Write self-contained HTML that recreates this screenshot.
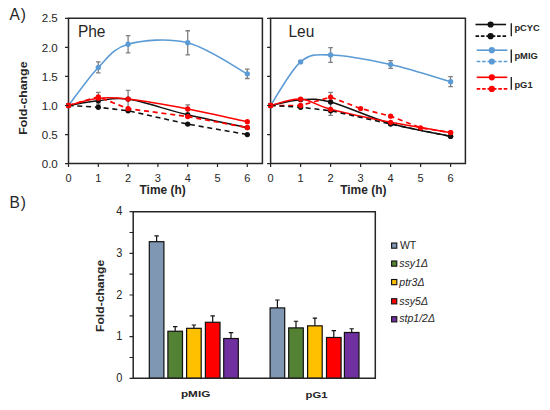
<!DOCTYPE html>
<html><head><meta charset="utf-8"><style>
html,body{margin:0;padding:0;background:#fff;width:550px;height:410px;overflow:hidden;}
svg{display:block;font-family:"Liberation Sans", sans-serif;}
</style></head><body>
<svg width="550" height="410" viewBox="0 0 550 410">
<rect width="550" height="410" fill="#fff"/>
<text transform="translate(9.6,19.6) scale(1,1.01)" font-size="15.5" fill="#262626" letter-spacing="0.8">A)</text>
<text transform="translate(9.4,207.5) scale(1,1.01)" font-size="15.5" fill="#262626" letter-spacing="1.1">B)</text>
<path d="M68.5,18.35 H262.4 V163.6 H68.5 Z" stroke="#262626" stroke-width="1.5" fill="none"/>
<path d="M98.3,61.92 V72.96 M96,61.92 h4.6 M96,72.96 h4.6" stroke="#7F7F7F" stroke-width="1.3" fill="none"/>
<path d="M128.1,35.61 V52.8 M125.8,35.61 h4.6 M125.8,52.8 h4.6" stroke="#7F7F7F" stroke-width="1.3" fill="none"/>
<path d="M187.7,30.73 V54.78 M185.4,30.73 h4.6 M185.4,54.78 h4.6" stroke="#7F7F7F" stroke-width="1.3" fill="none"/>
<path d="M247.3,69.19 V78.48 M245,69.19 h4.6 M245,78.48 h4.6" stroke="#7F7F7F" stroke-width="1.3" fill="none"/>
<path d="M98.3,92.43 V104.05 M96,92.43 h4.6 M96,104.05 h4.6" stroke="#7F7F7F" stroke-width="1.3" fill="none"/>
<path d="M128.1,90.39 V107.82 M125.8,90.39 h4.6 M125.8,107.82 h4.6" stroke="#7F7F7F" stroke-width="1.3" fill="none"/>
<path d="M187.7,104.92 V113.05 M185.4,104.92 h4.6 M185.4,113.05 h4.6" stroke="#7F7F7F" stroke-width="1.3" fill="none"/>
<path d="M68.5,105.5 C73.47,104.73 88.37,101.92 98.3,100.85 C108.23,99.79 113.2,96.78 128.1,99.11 C143,101.43 167.83,110.05 187.7,114.8 C207.57,119.54 237.37,125.45 247.3,127.58" stroke="#111111" stroke-width="1.5" fill="none"/>
<path d="M68.5,105.5 C73.47,104.29 88.37,99.3 98.3,98.24 C108.23,97.17 113.2,97.32 128.1,99.11 C143,100.9 167.83,105.21 187.7,108.99 C207.57,112.76 237.37,119.64 247.3,121.77" stroke="#FF0000" stroke-width="1.5" fill="none"/>
<path d="M68.5,105.5 C73.47,99.16 88.37,77.66 98.3,67.44 C108.23,57.23 113.2,48.32 128.1,44.2 C143,40.09 167.83,37.81 187.7,42.75 C207.57,47.69 237.37,68.65 247.3,73.84" stroke="#5B9BD5" stroke-width="1.6" fill="none"/>
<path d="M68.5,105.5 L98.3,96.78 L128.1,108.7 L187.7,116.54 L247.3,127.58" stroke="#FF0000" stroke-width="1.7" fill="none" stroke-dasharray="5,3.8"/>
<path d="M68.5,105.5 L98.3,107.24 L128.1,110.73 L187.7,124.09 L247.3,134.55" stroke="#111111" stroke-width="1.55" fill="none" stroke-dasharray="5,3.8"/>
<circle cx="68.5" cy="105.5" r="2.65" fill="#111111"/>
<circle cx="98.3" cy="100.85" r="2.65" fill="#111111"/>
<circle cx="128.1" cy="99.11" r="2.65" fill="#111111"/>
<circle cx="187.7" cy="114.8" r="2.65" fill="#111111"/>
<circle cx="247.3" cy="127.58" r="2.65" fill="#111111"/>
<circle cx="68.5" cy="105.5" r="2.65" fill="#111111"/>
<circle cx="98.3" cy="107.24" r="2.65" fill="#111111"/>
<circle cx="128.1" cy="110.73" r="2.65" fill="#111111"/>
<circle cx="187.7" cy="124.09" r="2.65" fill="#111111"/>
<circle cx="247.3" cy="134.55" r="2.65" fill="#111111"/>
<circle cx="68.5" cy="105.5" r="2.65" fill="#5B9BD5"/>
<circle cx="98.3" cy="67.44" r="2.65" fill="#5B9BD5"/>
<circle cx="128.1" cy="44.2" r="2.65" fill="#5B9BD5"/>
<circle cx="187.7" cy="42.75" r="2.65" fill="#5B9BD5"/>
<circle cx="247.3" cy="73.84" r="2.65" fill="#5B9BD5"/>
<circle cx="68.5" cy="105.5" r="2.65" fill="#FF0000"/>
<circle cx="98.3" cy="98.24" r="2.65" fill="#FF0000"/>
<circle cx="128.1" cy="99.11" r="2.65" fill="#FF0000"/>
<circle cx="187.7" cy="108.99" r="2.65" fill="#FF0000"/>
<circle cx="247.3" cy="121.77" r="2.65" fill="#FF0000"/>
<circle cx="68.5" cy="105.5" r="2.65" fill="#FF0000"/>
<circle cx="98.3" cy="96.78" r="2.65" fill="#FF0000"/>
<circle cx="128.1" cy="108.7" r="2.65" fill="#FF0000"/>
<circle cx="187.7" cy="116.54" r="2.65" fill="#FF0000"/>
<circle cx="247.3" cy="127.58" r="2.65" fill="#FF0000"/>
<path d="M65,163.6 H68.5 M65,134.55 H68.5 M65,105.5 H68.5 M65,76.45 H68.5 M65,47.4 H68.5 M65,18.35 H68.5 M68.5,163.6 V167.1 M98.3,163.6 V167.1 M128.1,163.6 V167.1 M157.9,163.6 V167.1 M187.7,163.6 V167.1 M217.5,163.6 V167.1 M247.3,163.6 V167.1 " stroke="#262626" stroke-width="1.2" fill="none"/>
<text transform="translate(57.8,167.7) scale(1,1.01)" font-size="11.6" text-anchor="end" fill="#262626">0.0</text>
<text transform="translate(57.8,138.65) scale(1,1.01)" font-size="11.6" text-anchor="end" fill="#262626">0.5</text>
<text transform="translate(57.8,109.6) scale(1,1.01)" font-size="11.6" text-anchor="end" fill="#262626">1.0</text>
<text transform="translate(57.8,80.55) scale(1,1.01)" font-size="11.6" text-anchor="end" fill="#262626">1.5</text>
<text transform="translate(57.8,51.5) scale(1,1.01)" font-size="11.6" text-anchor="end" fill="#262626">2.0</text>
<text transform="translate(57.8,22.45) scale(1,1.01)" font-size="11.6" text-anchor="end" fill="#262626">2.5</text>
<text transform="translate(68.5,182) scale(1,1.01)" font-size="11" text-anchor="middle" fill="#262626">0</text>
<text transform="translate(98.3,182) scale(1,1.01)" font-size="11" text-anchor="middle" fill="#262626">1</text>
<text transform="translate(128.1,182) scale(1,1.01)" font-size="11" text-anchor="middle" fill="#262626">2</text>
<text transform="translate(157.9,182) scale(1,1.01)" font-size="11" text-anchor="middle" fill="#262626">3</text>
<text transform="translate(187.7,182) scale(1,1.01)" font-size="11" text-anchor="middle" fill="#262626">4</text>
<text transform="translate(217.5,182) scale(1,1.01)" font-size="11" text-anchor="middle" fill="#262626">5</text>
<text transform="translate(247.3,182) scale(1,1.01)" font-size="11" text-anchor="middle" fill="#262626">6</text>
<text transform="translate(77.9,36.6) scale(1,1.01)" font-size="15.5" fill="#262626">Phe</text>
<text transform="translate(162.6,193.6) scale(1,1.01)" font-size="11.95" text-anchor="middle" font-weight="bold" fill="#262626">Time (h)</text>
<path d="M270.6,18.35 H465.4 V163.6 H270.6 Z" stroke="#262626" stroke-width="1.5" fill="none"/>
<path d="M330.6,92.4 V115.3 M328.3,92.4 h4.6 M328.3,115.3 h4.6" stroke="#7F7F7F" stroke-width="1.3" fill="none"/>
<path d="M300.6,60.76 V63.09 M298.3,60.76 h4.6 M298.3,63.09 h4.6" stroke="#7F7F7F" stroke-width="1.3" fill="none"/>
<path d="M330.6,47.57 V62.33 M328.3,47.57 h4.6 M328.3,62.33 h4.6" stroke="#7F7F7F" stroke-width="1.3" fill="none"/>
<path d="M390.6,60.65 V68.32 M388.3,60.65 h4.6 M388.3,68.32 h4.6" stroke="#7F7F7F" stroke-width="1.3" fill="none"/>
<path d="M450.6,76.68 V86.68 M448.3,76.68 h4.6 M448.3,86.68 h4.6" stroke="#7F7F7F" stroke-width="1.3" fill="none"/>
<path d="M270.6,105.5 C275.6,104.53 290.6,100.27 300.6,99.69 C310.6,99.11 315.6,98.04 330.6,102.01 C345.6,105.98 370.6,117.8 390.6,123.51 C410.6,129.22 440.6,134.16 450.6,136.29" stroke="#111111" stroke-width="1.5" fill="none"/>
<path d="M270.6,105.5 C275.6,104.43 290.6,98.48 300.6,99.11 C310.6,99.74 315.6,105.4 330.6,109.28 C345.6,113.15 370.6,118.47 390.6,122.35 C410.6,126.23 440.6,130.87 450.6,132.57" stroke="#FF0000" stroke-width="1.5" fill="none"/>
<path d="M270.6,105.5 C275.6,98.24 290.6,70.35 300.6,61.92 C310.6,53.5 315.6,54.53 330.6,54.95 C345.6,55.38 370.6,60.03 390.6,64.48 C410.6,68.94 440.6,78.81 450.6,81.68" stroke="#5B9BD5" stroke-width="1.6" fill="none"/>
<path d="M270.6,105.5 L300.6,105.5 L330.6,97.08 L360.6,108.58 L390.6,116.19 L420.6,127.81 L450.6,132.57" stroke="#FF0000" stroke-width="1.7" fill="none" stroke-dasharray="5,3.8"/>
<path d="M270.6,105.5 L300.6,107.24 L330.6,110.73 L390.6,124.09 L450.6,136.29" stroke="#111111" stroke-width="1.55" fill="none" stroke-dasharray="5,3.8"/>
<circle cx="270.6" cy="105.5" r="2.65" fill="#111111"/>
<circle cx="300.6" cy="99.69" r="2.65" fill="#111111"/>
<circle cx="330.6" cy="102.01" r="2.65" fill="#111111"/>
<circle cx="390.6" cy="123.51" r="2.65" fill="#111111"/>
<circle cx="450.6" cy="136.29" r="2.65" fill="#111111"/>
<circle cx="270.6" cy="105.5" r="2.65" fill="#111111"/>
<circle cx="300.6" cy="107.24" r="2.65" fill="#111111"/>
<circle cx="330.6" cy="110.73" r="2.65" fill="#111111"/>
<circle cx="390.6" cy="124.09" r="2.65" fill="#111111"/>
<circle cx="450.6" cy="136.29" r="2.65" fill="#111111"/>
<circle cx="270.6" cy="105.5" r="2.65" fill="#5B9BD5"/>
<circle cx="300.6" cy="61.92" r="2.65" fill="#5B9BD5"/>
<circle cx="330.6" cy="54.95" r="2.65" fill="#5B9BD5"/>
<circle cx="390.6" cy="64.48" r="2.65" fill="#5B9BD5"/>
<circle cx="450.6" cy="81.68" r="2.65" fill="#5B9BD5"/>
<circle cx="270.6" cy="105.5" r="2.65" fill="#FF0000"/>
<circle cx="300.6" cy="99.11" r="2.65" fill="#FF0000"/>
<circle cx="330.6" cy="109.28" r="2.65" fill="#FF0000"/>
<circle cx="390.6" cy="122.35" r="2.65" fill="#FF0000"/>
<circle cx="450.6" cy="132.57" r="2.65" fill="#FF0000"/>
<circle cx="270.6" cy="105.5" r="2.65" fill="#FF0000"/>
<circle cx="300.6" cy="105.5" r="2.65" fill="#FF0000"/>
<circle cx="330.6" cy="97.08" r="2.65" fill="#FF0000"/>
<circle cx="360.6" cy="108.58" r="2.65" fill="#FF0000"/>
<circle cx="390.6" cy="116.19" r="2.65" fill="#FF0000"/>
<circle cx="420.6" cy="127.81" r="2.65" fill="#FF0000"/>
<circle cx="450.6" cy="132.57" r="2.65" fill="#FF0000"/>
<path d="M267.1,163.6 H270.6 M267.1,134.55 H270.6 M267.1,105.5 H270.6 M267.1,76.45 H270.6 M267.1,47.4 H270.6 M267.1,18.35 H270.6 M270.6,163.6 V167.1 M300.6,163.6 V167.1 M330.6,163.6 V167.1 M360.6,163.6 V167.1 M390.6,163.6 V167.1 M420.6,163.6 V167.1 M450.6,163.6 V167.1 " stroke="#262626" stroke-width="1.2" fill="none"/>
<text transform="translate(270.6,182) scale(1,1.01)" font-size="11" text-anchor="middle" fill="#262626">0</text>
<text transform="translate(300.6,182) scale(1,1.01)" font-size="11" text-anchor="middle" fill="#262626">1</text>
<text transform="translate(330.6,182) scale(1,1.01)" font-size="11" text-anchor="middle" fill="#262626">2</text>
<text transform="translate(360.6,182) scale(1,1.01)" font-size="11" text-anchor="middle" fill="#262626">3</text>
<text transform="translate(390.6,182) scale(1,1.01)" font-size="11" text-anchor="middle" fill="#262626">4</text>
<text transform="translate(420.6,182) scale(1,1.01)" font-size="11" text-anchor="middle" fill="#262626">5</text>
<text transform="translate(450.6,182) scale(1,1.01)" font-size="11" text-anchor="middle" fill="#262626">6</text>
<text transform="translate(288.5,36.6) scale(1,1.01)" font-size="15.5" fill="#262626">Leu</text>
<text transform="translate(363.3,193.6) scale(1,1.01)" font-size="11.95" text-anchor="middle" font-weight="bold" fill="#262626">Time (h)</text>
<text transform="translate(27.3,98.1) rotate(-90) scale(1.12,1.01)" font-size="11" text-anchor="middle" font-weight="bold" fill="#262626">Fold-change</text>
<path d="M475.5,24.5 H506.1" stroke="#111111" stroke-width="1.6"/>
<path d="M475.5,36.2 H506.1" stroke="#111111" stroke-width="1.7" stroke-dasharray="3.6,1.8"/>
<circle cx="490.6" cy="24.5" r="3.1" fill="#111111"/>
<circle cx="490.6" cy="36.2" r="3.1" fill="#111111"/>
<path d="M511.3,23.2 V36.3" stroke="#262626" stroke-width="1.4"/>
<text transform="translate(514.4,31) scale(1.04,1.01)" font-size="9" font-weight="bold" fill="#262626">pCYC</text>
<path d="M476.7,50.2 H507.3" stroke="#5B9BD5" stroke-width="1.6"/>
<path d="M476.7,61.5 H507.3" stroke="#5B9BD5" stroke-width="1.7" stroke-dasharray="3.6,1.8"/>
<circle cx="491.8" cy="50.2" r="3.1" fill="#5B9BD5"/>
<circle cx="491.8" cy="61.5" r="3.1" fill="#5B9BD5"/>
<path d="M511.3,49.5 V62.7" stroke="#262626" stroke-width="1.4"/>
<text transform="translate(514.4,59) scale(1.04,1.01)" font-size="9" font-weight="bold" fill="#262626">pMIG</text>
<path d="M476.7,77.3 H507.3" stroke="#FF0000" stroke-width="1.6"/>
<path d="M476.7,88.9 H507.3" stroke="#FF0000" stroke-width="1.7" stroke-dasharray="3.6,1.8"/>
<circle cx="491.8" cy="77.3" r="3.1" fill="#FF0000"/>
<circle cx="491.8" cy="88.9" r="3.1" fill="#FF0000"/>
<path d="M511.3,77 V89.7" stroke="#262626" stroke-width="1.4"/>
<text transform="translate(514.4,87.5) scale(1.04,1.01)" font-size="9" font-weight="bold" fill="#262626">pG1</text>
<path d="M156.6,241.69 V235.86 M154.4,235.86 h4.4" stroke="#111" stroke-width="1.2" fill="none"/>
<rect x="149.3" y="241.69" width="14.6" height="136.61" fill="#8097B3" stroke="#111" stroke-width="1.2"/>
<path d="M175.2,331.24 V326.65 M173,326.65 h4.4" stroke="#111" stroke-width="1.2" fill="none"/>
<rect x="167.9" y="331.24" width="14.6" height="47.06" fill="#548235" stroke="#111" stroke-width="1.2"/>
<path d="M193.9,328.32 V324.99 M191.7,324.99 h4.4" stroke="#111" stroke-width="1.2" fill="none"/>
<rect x="186.6" y="328.32" width="14.6" height="49.98" fill="#FFC000" stroke="#111" stroke-width="1.2"/>
<path d="M212.7,322.28 V315.82 M210.5,315.82 h4.4" stroke="#111" stroke-width="1.2" fill="none"/>
<rect x="205.4" y="322.28" width="14.6" height="56.02" fill="#FF0000" stroke="#111" stroke-width="1.2"/>
<path d="M231,338.52 V332.69 M228.8,332.69 h4.4" stroke="#111" stroke-width="1.2" fill="none"/>
<rect x="223.7" y="338.52" width="14.6" height="39.78" fill="#7030A0" stroke="#111" stroke-width="1.2"/>
<path d="M277.4,307.91 V300 M275.2,300 h4.4" stroke="#111" stroke-width="1.2" fill="none"/>
<rect x="270.1" y="307.91" width="14.6" height="70.39" fill="#8097B3" stroke="#111" stroke-width="1.2"/>
<path d="M296,327.9 V321.24 M293.8,321.24 h4.4" stroke="#111" stroke-width="1.2" fill="none"/>
<rect x="288.7" y="327.9" width="14.6" height="50.4" fill="#548235" stroke="#111" stroke-width="1.2"/>
<path d="M314.9,325.82 V318.12 M312.7,318.12 h4.4" stroke="#111" stroke-width="1.2" fill="none"/>
<rect x="307.6" y="325.82" width="14.6" height="52.48" fill="#FFC000" stroke="#111" stroke-width="1.2"/>
<path d="M333.8,337.48 V330.61 M331.6,330.61 h4.4" stroke="#111" stroke-width="1.2" fill="none"/>
<rect x="326.5" y="337.48" width="14.6" height="40.82" fill="#FF0000" stroke="#111" stroke-width="1.2"/>
<path d="M351.7,332.49 V328.74 M349.5,328.74 h4.4" stroke="#111" stroke-width="1.2" fill="none"/>
<rect x="344.4" y="332.49" width="14.6" height="45.81" fill="#7030A0" stroke="#111" stroke-width="1.2"/>
<path d="M133.2,211.7 H375.3 V378.3 H133.2 Z" stroke="#262626" stroke-width="1.5" fill="none"/>
<path d="M129.5,378.3 H133.2 M129.5,357.48 H133.2 M129.5,336.65 H133.2 M129.5,315.82 H133.2 M129.5,295 H133.2 M129.5,274.18 H133.2 M129.5,253.35 H133.2 M129.5,232.52 H133.2 M129.5,211.7 H133.2 " stroke="#262626" stroke-width="1.2" fill="none"/>
<text transform="translate(122.5,381.9) scale(1,1.08)" font-size="11" text-anchor="end" fill="#262626">0</text>
<text transform="translate(122.5,340.25) scale(1,1.08)" font-size="11" text-anchor="end" fill="#262626">1</text>
<text transform="translate(122.5,298.6) scale(1,1.08)" font-size="11" text-anchor="end" fill="#262626">2</text>
<text transform="translate(122.5,256.95) scale(1,1.08)" font-size="11" text-anchor="end" fill="#262626">3</text>
<text transform="translate(122.5,215.3) scale(1,1.08)" font-size="11" text-anchor="end" fill="#262626">4</text>
<text transform="translate(195.6,397.2) scale(1.13,0.93)" font-size="10.4" text-anchor="middle" font-weight="bold" fill="#262626">pMIG</text>
<text transform="translate(316.5,398) scale(1.07,0.93)" font-size="10.6" text-anchor="middle" font-weight="bold" fill="#262626">pG1</text>
<text transform="translate(104.2,295.9) rotate(-90) scale(1.06,1.01)" font-size="11.45" text-anchor="middle" font-weight="bold" fill="#262626">Fold-change</text>
<rect x="391.6" y="243" width="5.2" height="5.2" fill="#8097B3" stroke="#111" stroke-width="1.1"/>
<text transform="translate(399.9,249.1) scale(1,1.01)" font-size="10.5" fill="#262626">WT</text>
<rect x="391.6" y="261" width="5.2" height="5.2" fill="#548235" stroke="#111" stroke-width="1.1"/>
<text transform="translate(399.3,267.3) scale(1,1.01)" font-size="10.5" font-style="italic" fill="#262626">ssy1Δ</text>
<rect x="391.6" y="279.5" width="5.2" height="5.2" fill="#FFC000" stroke="#111" stroke-width="1.1"/>
<text transform="translate(399.3,286.3) scale(1,1.01)" font-size="10.5" font-style="italic" fill="#262626">ptr3Δ</text>
<rect x="391.6" y="298.7" width="5.2" height="5.2" fill="#FF0000" stroke="#111" stroke-width="1.1"/>
<text transform="translate(399.3,304.9) scale(1,1.01)" font-size="10.5" font-style="italic" fill="#262626">ssy5Δ</text>
<rect x="391.6" y="316.7" width="5.2" height="5.2" fill="#7030A0" stroke="#111" stroke-width="1.1"/>
<text transform="translate(399.3,322.3) scale(1,1.01)" font-size="10.5" font-style="italic" fill="#262626">stp1/2Δ</text>
</svg>
</body></html>
